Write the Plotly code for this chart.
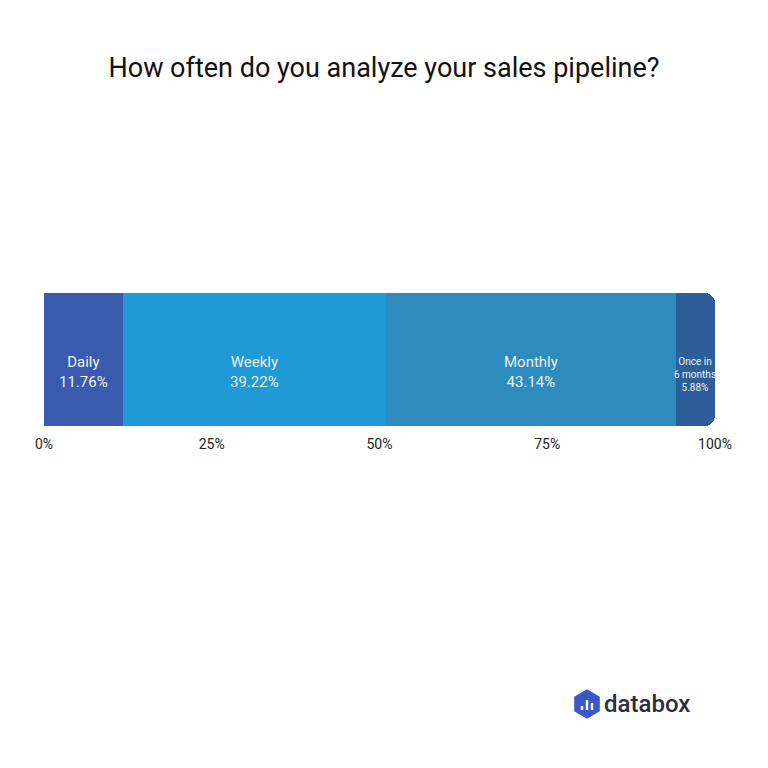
import plotly.graph_objects as go

categories = ["Daily", "Weekly", "Monthly", "Once in<br>6 months"]
values = [11.76, 39.22, 43.14, 5.88]
colors = ["#3A5BAD", "#1F9AD6", "#2E8BBD", "#2D5E99"]
label_sizes = [15, 15, 15, 10]
tick_vals = [0, 25, 50, 75, 100]
tick_text = ["0%", "25%", "50%", "75%", "100%"]

fig = go.Figure()
annotations = []
start = 0.0
for c, v, col, fs in zip(categories, values, colors, label_sizes):
    fig.add_trace(go.Bar(
        x=[v], y=["q"], orientation="h", name=c.replace("<br>", " "),
        marker=dict(color=col, line=dict(width=0)),
        showlegend=False, hoverinfo="skip",
    ))
    annotations.append(dict(
        text=f"{c}<br>{v:.2f}%", x=start + v / 2, y="q", xref="x", yref="y",
        showarrow=False, xanchor="center", yanchor="middle",
        yshift=-12 if fs > 12 else -15,
        font=dict(color="#EAF0F8", size=fs, family="Roboto"),
    ))
    start += v

# plot-area pixel geometry (for logo placement)
L, R, T, B = 44, 715, 293, 426
def px(x):
    return (x - L) / (R - L)
def py(y):
    return (B - y) / (B - T)

cx, cy, r = 587, 704, 13
hexpts = [(cx, cy - r), (cx + 11.3, cy - r / 2), (cx + 11.3, cy + r / 2), (cx, cy + r),
          (cx - 11.3, cy + r / 2), (cx - 11.3, cy - r / 2)]
path = "M " + " L ".join(f"{px(x)},{py(y)}" for x, y in hexpts) + " Z"
shapes = [dict(type="path", xref="paper", yref="paper", path=path,
               fillcolor="#3B57C9", line=dict(color="#3B57C9", width=3), layer="above")]
for bx, top in [(582, 706), (587, 700), (592, 703)]:
    shapes.append(dict(type="rect", xref="paper", yref="paper",
                       x0=px(bx - 1.2), x1=px(bx + 1.2), y0=py(710), y1=py(top),
                       fillcolor="white", line=dict(width=0), layer="above"))

annotations.append(dict(text="databox", xref="paper", yref="paper",
                        x=px(602), y=py(704), xanchor="left", yanchor="middle",
                        showarrow=False,
                        font=dict(size=24, color="#2B2F38", family="Roboto", weight=500)))

fig.update_layout(
    barmode="stack", bargap=0, barcornerradius=10,
    width=768, height=768,
    margin=dict(l=L, r=768 - R, t=T, b=768 - B),
    paper_bgcolor="white", plot_bgcolor="white",
    font=dict(family="Roboto", color="#222222"),
    title=dict(text="How often do you analyze your sales pipeline?",
               x=0.5, xanchor="center", y=1 - 68 / 768, yanchor="middle",
               font=dict(size=27, color="#111111", family="Roboto")),
    xaxis=dict(range=[0, 100], tickvals=tick_vals, ticktext=tick_text,
               showgrid=False, zeroline=False, showline=False,
               ticks="outside", ticklen=5, tickcolor="rgba(0,0,0,0)",
               tickfont=dict(size=14, color="#222222"), fixedrange=True),
    yaxis=dict(visible=False, fixedrange=True),
    shapes=shapes,
    annotations=annotations,
)

fig.write_html("out.html", config={"displayModeBar": False},
               post_script="document.body.style.margin='0';")
